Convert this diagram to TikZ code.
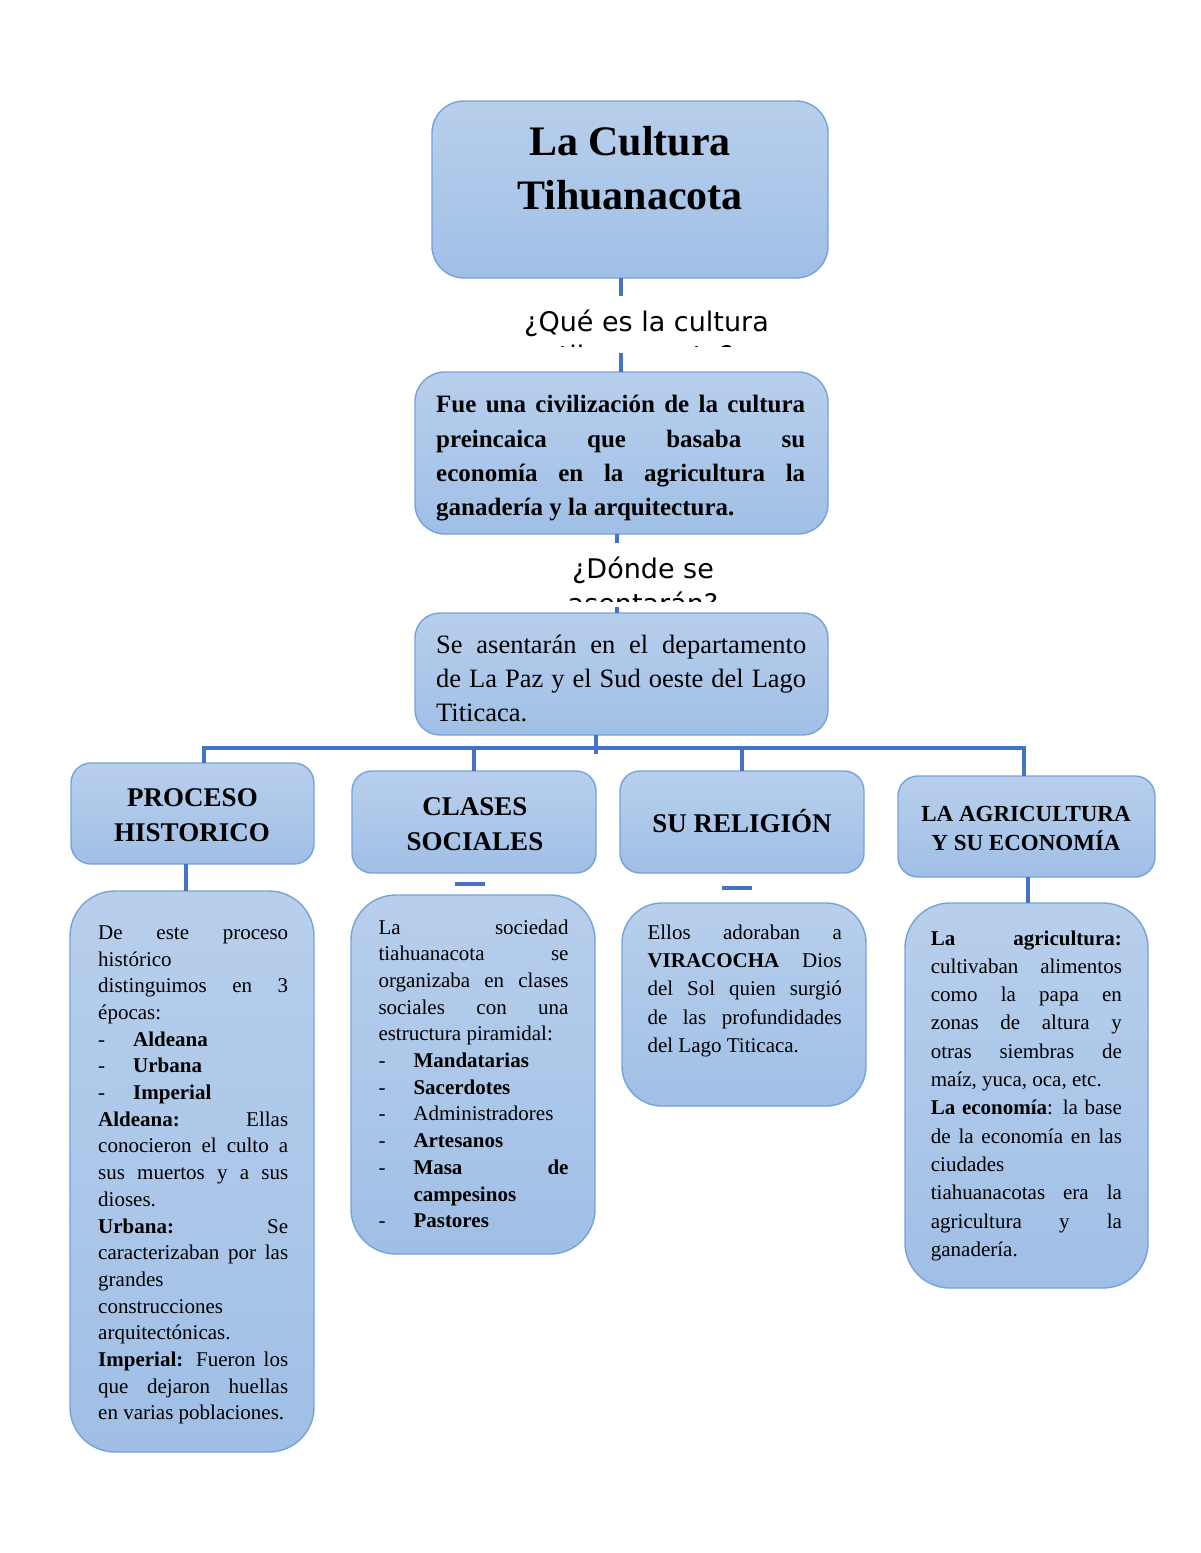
\documentclass[tikz,border=0pt]{standalone}
\usepackage{fontspec}
\setmainfont{Liberation Serif}
\newfontfamily\qfont{DejaVu Sans}
\definecolor{boxtop}{RGB}{184,207,236}
\definecolor{boxbot}{RGB}{160,191,230}
\definecolor{boxline}{RGB}{116,163,218}
\definecolor{conncol}{RGB}{68,114,196}
\newcommand\JL[1]{\hbox to \hsize{#1}}
\newcommand\LL[1]{\hbox to \hsize{#1\hfil}}
\newcommand\BL[1]{\hbox to \hsize{\hbox to 35pt{-\hfil}#1\hfil}}
\newcommand\BJ[2]{\hbox to \hsize{\hbox to 35pt{-\hfil}#1\hfil #2}}
\newcommand\IL[1]{\hbox to \hsize{\hskip35pt #1\hfil}}
\tikzset{
  cbox/.style={draw=boxline, line width=1.4pt, top color=boxtop, bottom color=boxbot, inner sep=0pt, outer sep=0pt},
  conn/.style={draw=conncol, line width=4.5pt},
  titlefont/.style={font=\fontsize{42}{54}\selectfont\bfseries, anchor=base, inner sep=0pt},
  catfont/.style={font=\fontsize{27}{35}\selectfont\bfseries, anchor=base, inner sep=0pt},
  cat4font/.style={font=\fontsize{23}{29}\selectfont\bfseries, anchor=base, inner sep=0pt},
  qlabel/.style={font=\qfont\fontsize{27}{30}\selectfont, anchor=base, inner sep=0pt},
  bodyA/.style={font=\fontsize{21}{26.7}\selectfont, anchor=base west, inner sep=0pt},
  bodyB/.style={font=\fontsize{21}{28.3}\selectfont, anchor=base west, inner sep=0pt},
}
\begin{document}
\begin{tikzpicture}[x=1pt,y=-1pt]
\useasboundingbox (0,0) rectangle (1200,1553);
\fill[white] (0,0) rectangle (1200,1553);

% ---------- boxes ----------
\node[cbox, rounded corners=32pt, minimum width=396pt, minimum height=177pt] (title) at (630,189.5) {};
\node[cbox, rounded corners=30pt, minimum width=413pt, minimum height=162pt] (def) at (621.5,453) {};
\node[cbox, rounded corners=25pt, minimum width=413pt, minimum height=122pt] (where) at (621.5,674) {};
\node[cbox, rounded corners=20pt, minimum width=243pt, minimum height=101pt] (cat1) at (192.5,813.5) {};
\node[cbox, rounded corners=20pt, minimum width=244pt, minimum height=102pt] (cat2) at (474,822) {};
\node[cbox, rounded corners=20pt, minimum width=244pt, minimum height=102pt] (cat3) at (742,822) {};
\node[cbox, rounded corners=20pt, minimum width=257pt, minimum height=101pt] (cat4) at (1026.5,826.5) {};
\node[cbox, rounded corners=45pt, minimum width=244pt, minimum height=561pt] (txt1) at (192,1171.5) {};
\node[cbox, rounded corners=45pt, minimum width=244pt, minimum height=359pt] (txt2) at (473,1074.5) {};
\node[cbox, rounded corners=40pt, minimum width=244pt, minimum height=203pt] (txt3) at (744,1004.5) {};
\node[cbox, rounded corners=45pt, minimum width=243pt, minimum height=385pt] (txt4) at (1026.5,1095.5) {};

% ---------- connectors ----------
\coordinate (qa) at (621,296);
\coordinate (qb) at (621,353);
\coordinate (wa) at (617,543);
\coordinate (wb) at (617,607);
\coordinate (bar) at (596,754);
\coordinate (barL) at (204,748);
\coordinate (barR) at (1024,748);
\coordinate (d2) at (474,748);
\coordinate (d3) at (742,748);
\coordinate (d1x) at (186,0);
\coordinate (d4x) at (1028,0);
\draw[conn] (title.south -| qa) -- (qa);
\draw[conn] (qb) -- (def.north -| qb);
\draw[conn] (def.south -| wa) -- (wa);
\draw[conn] (wb) -- (where.north -| wb);
\draw[conn] (where.south -| bar) -- (bar);
\draw[conn] ([xshift=-2.25pt]barL) -- ([xshift=2.25pt]barR);
\draw[conn] (barL) -- (cat1.north -| barL);
\draw[conn] (d2) -- (cat2.north -| d2);
\draw[conn] (d3) -- (cat3.north -| d3);
\draw[conn] (barR) -- (cat4.north -| barR);
\draw[conn] (cat1.south -| d1x) -- (txt1.north -| d1x);
\draw[conn] (cat4.south -| d4x) -- (txt4.north -| d4x);
\coordinate (s2a) at (455,884);
\coordinate (s2b) at (485,884);
\coordinate (s3a) at (722,888);
\coordinate (s3b) at (752,888);
\draw[conn] (s2a) -- (s2b);
\draw[conn] (s3a) -- (s3b);

% ---------- question labels (clipped as in the original) ----------
\begin{scope}
\clip (480,300) rectangle (820,346.5);
\node[qlabel] (q1) at (646.5,331.7) {¿Qué es la cultura};
\node[qlabel] (q1b) at (646.5,365) {tihuanacota?};
\end{scope}
\begin{scope}
\clip (480,540) rectangle (820,601);
\node[qlabel] (q2) at (643,578.5) {¿Dónde se};
\node[qlabel] (q2b) at (643,613) {asentarán?};
\end{scope}

% ---------- texts ----------
\node[titlefont] (titleA) at (630,155) {La Cultura};
\node[titlefont] (titleB) at (630,209) {Tihuanacota};

\node[font=\fontsize{25}{34.3}\selectfont\bfseries, anchor=base west, inner sep=0pt] (deftext) at (436,412.7)
 {\vtop{\hsize=369pt
 \JL{Fue una civilización de la cultura}
 \JL{preincaica que basaba su}
 \JL{economía en la agricultura la}
 \LL{ganadería y la arquitectura.}}};

\node[font=\fontsize{26.5}{34}\selectfont, anchor=base west, inner sep=0pt] (wheretext) at (436,653)
 {\vtop{\hsize=370pt
 \JL{Se asentarán en el departamento}
 \JL{de La Paz y el Sud oeste del Lago}
 \LL{Titicaca.}}};

\node[catfont] (c1a) at (192.5,806) {PROCESO};
\node[catfont] (c1b) at (192,841) {HISTORICO};
\node[catfont] (c2a) at (475,815) {CLASES};
\node[catfont] (c2b) at (475,850) {SOCIALES};
\node[catfont] (c3a) at (742,832) {SU RELIGIÓN};
\node[cat4font] (c4a) at (1026,821) {LA AGRICULTURA};
\node[cat4font] (c4b) at (1026,850) {Y SU ECONOMÍA};

\node[bodyA] (t1) at (98,939.3)
 {\vtop{\hsize=190pt
 \JL{De este proceso}
 \LL{histórico}
 \JL{distinguimos en 3}
 \LL{épocas:}
 \BL{\textbf{Aldeana}}
 \BL{\textbf{Urbana}}
 \BL{\textbf{Imperial}}
 \JL{\textbf{Aldeana:} Ellas}
 \JL{conocieron el culto a}
 \JL{sus muertos y a sus}
 \LL{dioses.}
 \JL{\textbf{Urbana:} Se}
 \JL{caracterizaban por las}
 \LL{grandes}
 \LL{construcciones}
 \LL{arquitectónicas.}
 \JL{\textbf{Imperial:} Fueron los}
 \JL{que dejaron huellas}
 \LL{en varias poblaciones.}}};

\node[bodyA] (t2) at (378.3,934)
 {\vtop{\hsize=190pt
 \JL{La sociedad}
 \JL{tiahuanacota se}
 \JL{organizaba en clases}
 \JL{sociales con una}
 \LL{estructura piramidal:}
 \BL{\textbf{Mandatarias}}
 \BL{\textbf{Sacerdotes}}
 \BL{Administradores}
 \BL{\textbf{Artesanos}}
 \BJ{\textbf{Masa}}{\textbf{de}}
 \IL{\textbf{campesinos}}
 \BL{\textbf{Pastores}}}};

\node[bodyB] (t3) at (647.3,939.3)
 {\vtop{\hsize=194.4pt
 \JL{Ellos adoraban a}
 \JL{\textbf{VIRACOCHA} Dios}
 \JL{del Sol quien surgió}
 \JL{de las profundidades}
 \LL{del Lago Titicaca.}}};

\node[bodyB] (t4) at (930.7,945)
 {\vtop{\hsize=191pt
 \JL{\textbf{La agricultura:}}
 \JL{cultivaban alimentos}
 \JL{como la papa en}
 \JL{zonas de altura y}
 \JL{otras siembras de}
 \LL{maíz, yuca, oca, etc.}
 \JL{\textbf{La economía}: la base}
 \JL{de la economía en las}
 \LL{ciudades}
 \JL{tiahuanacotas era la}
 \JL{agricultura y la}
 \LL{ganadería.}}};
\end{tikzpicture}
\end{document}
